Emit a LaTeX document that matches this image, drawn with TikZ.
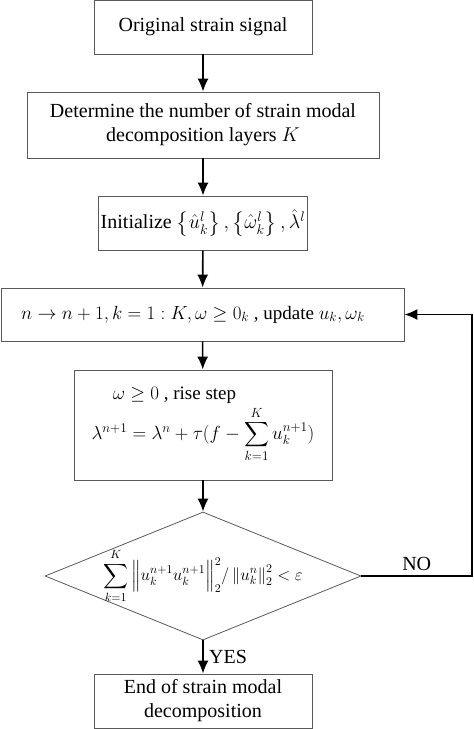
\RequirePackage{fix-cm}
\documentclass[tikz,border=0pt]{standalone}
\usepackage{amsmath}
\usepackage{fontspec}
\setmainfont{Liberation Serif}
\usetikzlibrary{shapes.geometric,arrows.meta}

\begin{document}
\begin{tikzpicture}[x=1pt,y=-1pt,font=\fontsize{20}{24}\selectfont,
    stepbox/.style={draw=black!65,line width=0.8pt,inner sep=2pt,align=center},
    testbox/.style={draw=black!65,line width=0.8pt,diamond,inner sep=0pt},
    flow/.style={line width=1.6pt,-{Latex[length=13pt,width=11pt]}}]
    \useasboundingbox (0,0) rectangle (474,729);
    \node[stepbox,minimum width=218pt,minimum height=54pt] (sig) at (203,27) {Original strain signal};
    \node[stepbox,minimum width=352pt,minimum height=66pt] (lay) at (203,125)
        {Determine the number of strain modal\\decomposition layers $K$};
    \node[stepbox,minimum width=200pt,minimum height=54pt] (ini) at (203,223)
        {Initialize $\left\{\hat{u}_k^l\right\},\left\{\hat{\omega}_k^l\right\},\hat{\lambda}^l$};
    \node[stepbox,minimum width=403pt,minimum height=53pt,font=\fontsize{19}{23}\selectfont] (upd) at (202.5,314.5)
        {$n\rightarrow n+1,k=1:K,\omega\geq 0_k$\ , update\ $u_k,\omega_k$\hspace*{1em}};
    \node[stepbox,minimum width=258pt,minimum height=110pt,font=\fontsize{19}{23}\selectfont] (ris) at (203,425)
        {$\omega\geq 0$\ , rise step\hspace*{3em}\\[2pt]
        $\lambda^{n+1}=\lambda^n+\tau(f-\displaystyle\sum_{k=1}^{K}u_k^{n+1})$};
    \node[testbox,minimum width=316pt,minimum height=128pt,font=\fontsize{17}{21}\selectfont] (chk) at (203,576)
        {\makebox[0pt]{$\displaystyle\sum_{k=1}^{K}\Big\|u_k^{n+1}u_k^{n+1}\Big\|_2^2/\left\|u_k^n\right\|_2^2<\varepsilon$}};
    \node[stepbox,minimum width=218pt,minimum height=54pt] (fin) at (203,701)
        {End of strain modal\\decomposition};
    \coordinate (back) at (472,576);

    \draw[flow] (sig) -- (lay);
    \draw[flow] (lay) -- (ini);
    \draw[flow] (ini) -- (upd);
    \draw[flow] (upd) -- (ris);
    \draw[flow] (ris) -- (chk);
    \draw[flow] (chk) -- node[right=2pt] {YES} (fin);
    \draw[flow] (chk.east) -- node[above=1pt] {NO} (back) |- (upd.east);
\end{tikzpicture}
\end{document}
